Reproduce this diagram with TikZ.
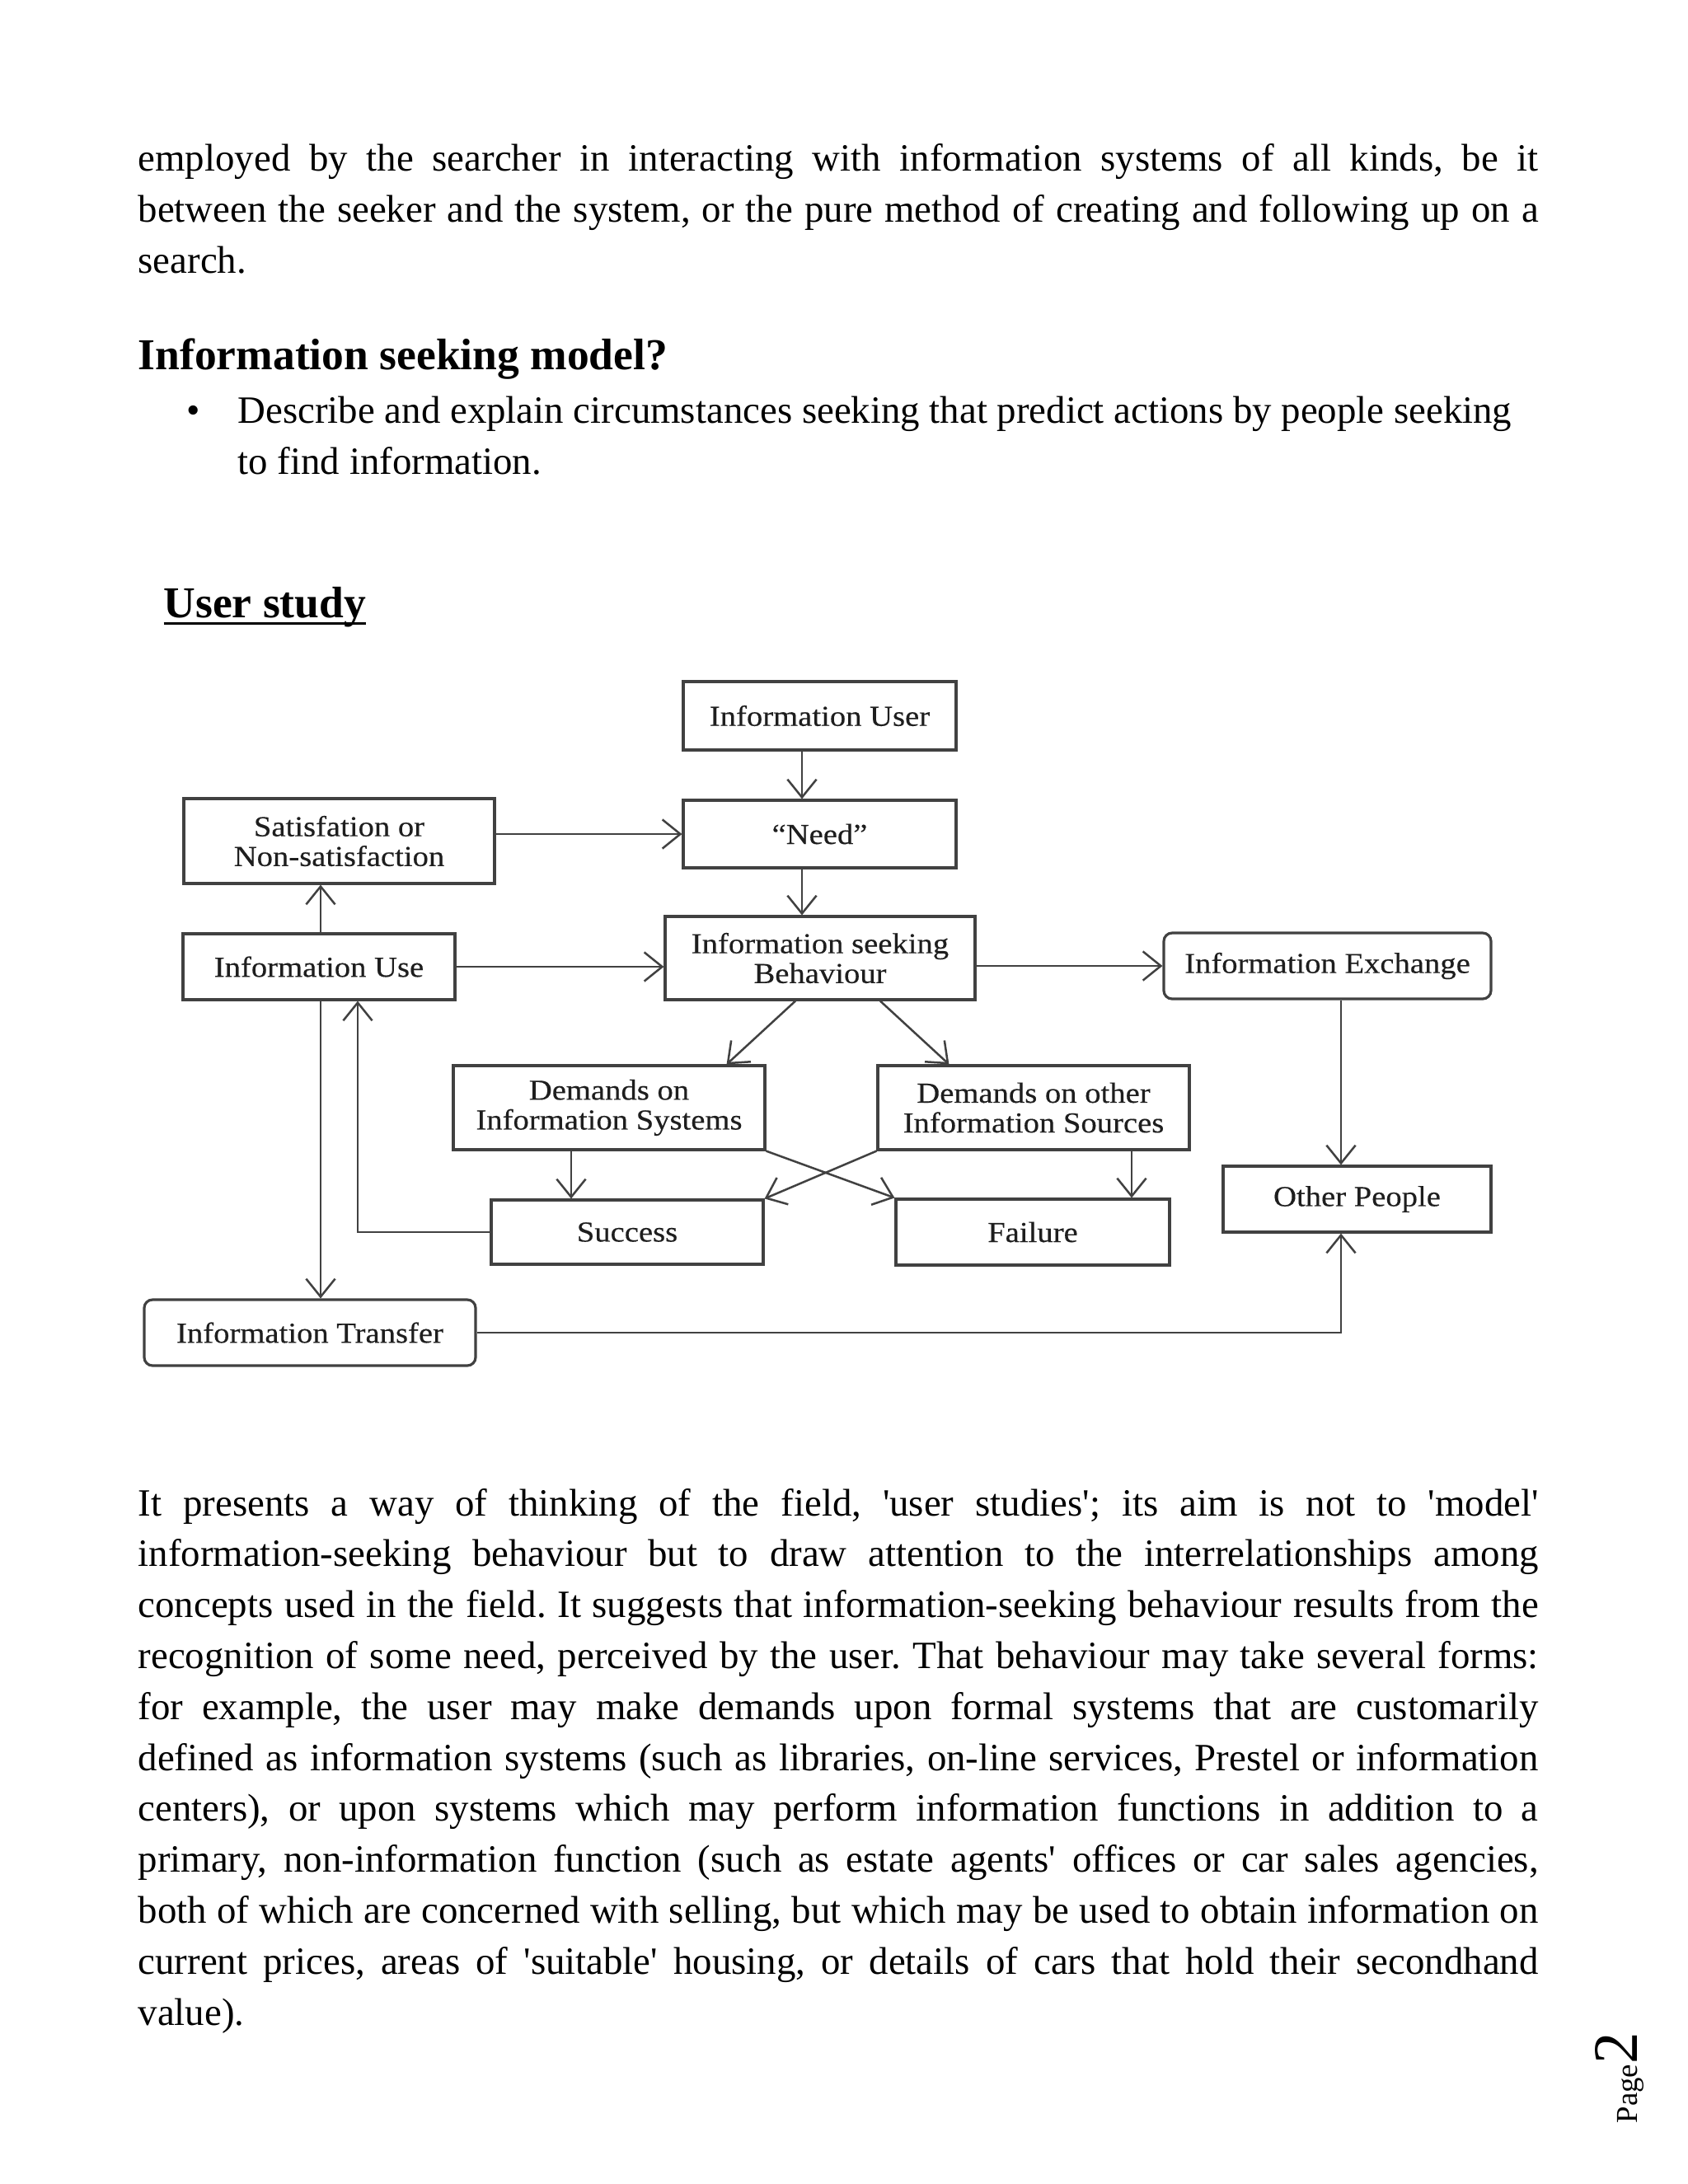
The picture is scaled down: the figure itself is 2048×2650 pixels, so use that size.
\documentclass[tikz,border=0pt]{standalone}
\usepackage{fontspec}
\setmainfont{Liberation Serif}
\newfontfamily\boxfont{Liberation Serif}[FakeStretch=1.1,FakeBold=0.3]
\usetikzlibrary{arrows.meta,calc}
\definecolor{dgray}{RGB}{65,65,65}
\definecolor{tgray}{RGB}{30,30,30}
\newcommand\pxu{0.29883pt}
\newcommand\sq{\textquotesingle}
\newcommand\jline[1]{\hbox to 507.7pt{\frenchspacing\spaceskip=.25em plus .3em minus .12em\relax #1}}
\begin{document}
\begin{tikzpicture}[x=0.29883pt, y=-0.29883pt,
  box/.style={draw=dgray, line width=0.95pt, fill=white, inner sep=0pt, align=center,
    font={\boxfont\fontsize{10.5}{10.8}\selectfont}, text=tgray},
  rbox/.style={box, rounded corners=3pt},
  arr/.style={draw=dgray, line width=0.75pt, -{Straight Barb[length=6.5pt,width=10.5pt]}},
  body/.style={anchor=base west, inner sep=0pt, font={\fontsize{14}{16}\selectfont\frenchspacing}},
  head/.style={anchor=base west, inner sep=0pt, font={\bfseries\fontsize{16}{19}\selectfont}},
]
\fill[white] (0,0) rectangle (2048,2650);
\useasboundingbox (0,0) rectangle (2048,2650);

% ---- top text ----
\node[body] (t1) at (167,207.7) {\jline{employed by the searcher in interacting with information systems of all kinds, be it}};
\node[body] (t2) at (167,269.5) {\jline{between the seeker and the system, or the pure method of creating and following up on a}};
\node[body] (t3) at (167,331.3) {search.};
\node[head] (h1) at (167,448) {Information seeking model?};
\node[anchor=base, inner sep=0pt, font={\fontsize{14}{16}\selectfont}] (bul) at (235,513) {•};
\node[body] (b1) at (288,513) {Describe and explain circumstances seeking that predict actions by people seeking};
\node[body] (b2) at (288,575) {to find information.};
\node[head] (h2) at (198,749) {\sbox0{User study}\usebox0\llap{\rule[-2.6pt]{\wd0}{0.8pt}}};

% ---- diagram boxes ----
\node[box, minimum width=331*\pxu, minimum height=83*\pxu] (IU) at (994.5,868.5) {Information User};
\node[box, minimum width=331*\pxu, minimum height=82*\pxu] (Need) at (994.5,1012) {“Need”};
\node[box, minimum width=376*\pxu, minimum height=101*\pxu] (ISB) at (995,1162.5) {Information seeking\\Behaviour};
\node[box, minimum width=377*\pxu, minimum height=103*\pxu] (Sat) at (411.5,1020.5) {Satisfation or\\Non-satisfaction};
\node[box, minimum width=330*\pxu, minimum height=80*\pxu] (IUse) at (387,1173) {Information Use};
\node[rbox, minimum width=397*\pxu, minimum height=80*\pxu] (IEx) at (1610.5,1172) {Information Exchange};
\node[box, minimum width=378*\pxu, minimum height=102*\pxu] (DIS) at (739,1344) {Demands on\\Information Systems};
\node[box, minimum width=378*\pxu, minimum height=102*\pxu] (DOS) at (1254,1344) {Demands on other\\Information Sources};
\node[box, minimum width=330*\pxu, minimum height=78*\pxu] (Suc) at (761,1495) {Success};
\node[box, minimum width=332*\pxu, minimum height=80*\pxu] (Fail) at (1253,1495) {Failure};
\node[box, minimum width=325*\pxu, minimum height=80*\pxu] (OP) at (1646.5,1455) {Other People};
\node[rbox, minimum width=402*\pxu, minimum height=80*\pxu] (IT) at (376,1617) {Information Transfer};

\coordinate (vx) at (973,0);
\coordinate (ux) at (389,0);
\coordinate (lx) at (434,0);
\coordinate (sx) at (693,0);
\coordinate (fx) at (1373,0);
\coordinate (ox) at (1627,0);

% ---- connectors ----
\draw[arr] (IU.south -| vx) -- (Need.north -| vx);
\draw[arr] (Need.south -| vx) -- (ISB.north -| vx);
\draw[arr] (Sat.east |- Need.west) -- (Need.west);
\draw[arr] (IUse.east) -- (ISB.west |- IUse.east);
\draw[arr] (ISB.east |- IEx.west) -- (IEx.west);
\draw[arr] (IUse.north -| ux) -- (Sat.south -| ux);
\draw[arr] (IUse.south -| ux) -- (IT.north -| ux);
\draw[arr] (Suc.west) -| (IUse.south -| lx);
\draw[arr] ($(ISB.south)+(-30,0)$) -- ($(DIS.north east)+(-48,0)$);
\draw[arr] ($(ISB.south)+(73,0)$) -- ($(DOS.north west)+(88,0)$);
\draw[arr] (DIS.south -| sx) -- (Suc.north -| sx);
\draw[arr] (DOS.south -| fx) -- (Fail.north -| fx);
\draw[arr] (DIS.south east) -- (Fail.north west);
\draw[arr] (DOS.south west) -- (Suc.north east);
\draw[arr] (IEx.south -| ox) -- (OP.north -| ox);
\draw[arr] (IT.east) -| (OP.south -| ox);

% ---- bottom paragraph ----
\node[body] (p1) at (167,1839) {\jline{It presents a way of thinking of the field, \sq{}user studies\sq{}; its aim is not to \sq{}model\sq{}}};
\node[body] (p2) at (167,1900.8) {\jline{information-seeking behaviour but to draw attention to the interrelationships among}};
\node[body] (p3) at (167,1962.6) {\jline{concepts used in the field. It suggests that information-seeking behaviour results from the}};
\node[body] (p4) at (167,2024.4) {\jline{recognition of some need, perceived by the user. That behaviour may take several forms:}};
\node[body] (p5) at (167,2086.2) {\jline{for example, the user may make demands upon formal systems that are customarily}};
\node[body] (p6) at (167,2148) {\jline{defined as information systems (such as libraries, on-line services, Prestel or information}};
\node[body] (p7) at (167,2209.8) {\jline{centers), or upon systems which may perform information functions in addition to a}};
\node[body] (p8) at (167,2271.6) {\jline{primary, non-information function (such as estate agents\sq{} offices or car sales agencies,}};
\node[body] (p9) at (167,2333.4) {\jline{both of which are concerned with selling, but which may be used to obtain information on}};
\node[body] (p10) at (167,2395.2) {\jline{current prices, areas of \sq{}suitable\sq{} housing, or details of cars that hold their secondhand}};
\node[body] (p11) at (167,2457) {value).};

% ---- page number ----
\node[rotate=90, anchor=base west, inner sep=0pt] (pg) at (1986,2577) {\fontsize{11}{11}\selectfont Page\fontsize{23}{23}\selectfont 2};
\end{tikzpicture}
\end{document}
